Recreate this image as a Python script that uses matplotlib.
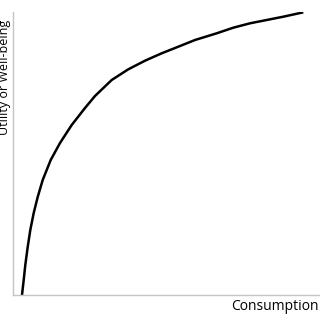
import matplotlib
matplotlib.use('Agg')
import matplotlib.pyplot as plt

# curve (arbitrary units)
consumption = [9, 10.7, 12.3, 14.7, 17.3, 20.7, 24.7, 29.7, 37.7, 47, 58.7,
               72, 82, 98.7, 115.3, 132, 148.7, 165.3, 182, 203.7, 220.3,
               237, 253.7, 270.3, 290.3]
utility = [0, 15, 30, 48, 65, 82, 98, 115, 135, 152, 170,
           187, 199, 215, 225.7, 234.3, 241.7, 248.3, 255, 261.7, 267.3,
           271.7, 275, 278.3, 282.7]

fig = plt.figure(figsize=(3.2, 3.2), dpi=100)
ax = fig.add_axes([13/320, 25/320, 307/320, 283/320])
ax.plot(consumption, utility, color='black', lw=1.8, solid_capstyle='butt',
        solid_joinstyle='round')
ax.set_xlim(0, 307)
ax.set_ylim(0, 283)
ax.set_xticks([])
ax.set_yticks([])
for s in ['top', 'right']:
    ax.spines[s].set_visible(False)
for s in ['left', 'bottom']:
    ax.spines[s].set_color('#c4c4c4')
    ax.spines[s].set_linewidth(1.0)

fig.text(5/320, 1 - 135/320, 'Utility or Well-being', rotation=90,
         ha='center', va='bottom', fontsize=9, family='Open Sans')
fig.text(319/320, 1 - 307/320, 'Consumption', ha='right', va='center',
         fontsize=10, family='Open Sans')

fig.savefig('out.png', dpi=100)
